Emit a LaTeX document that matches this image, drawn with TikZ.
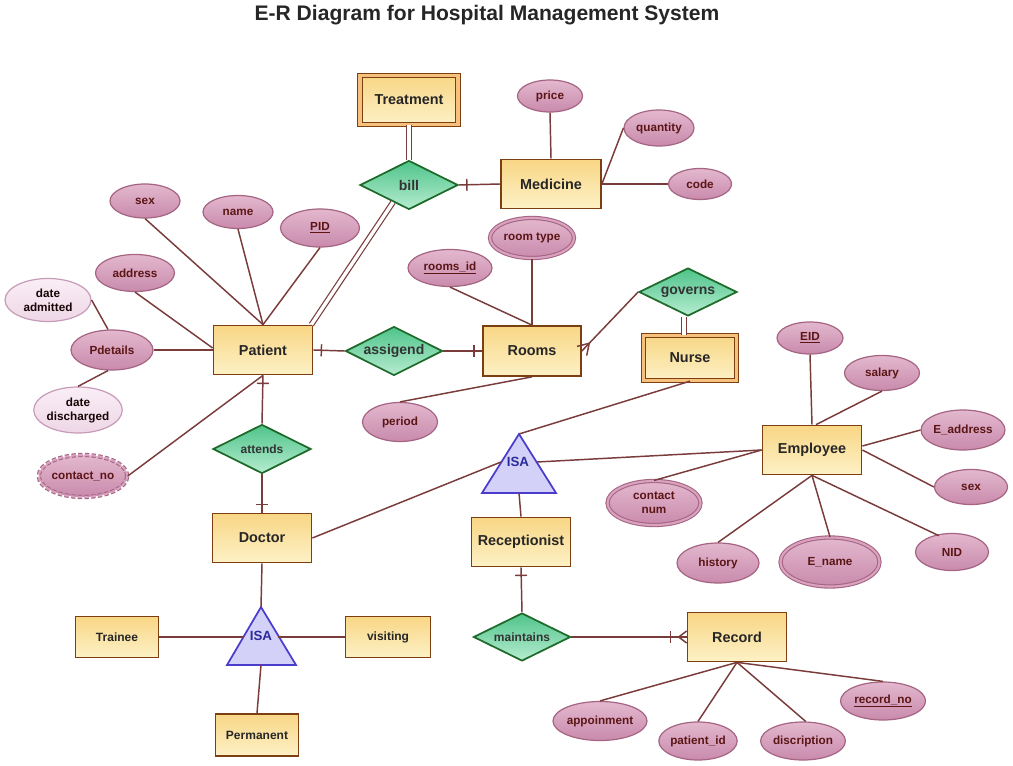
\documentclass[tikz,border=0pt]{standalone}
\usepackage{fontspec}
\setmainfont{Liberation Sans}
\usetikzlibrary{shapes.geometric,decorations.markings,calc}
\definecolor{lineC}{HTML}{7A3B3B}
\definecolor{entB}{HTML}{7B3F12}
\definecolor{entTop}{HTML}{F8D685}
\definecolor{entBot}{HTML}{FDF1C6}
\definecolor{dblC}{HTML}{F6C17C}
\definecolor{relB}{HTML}{1D6A2A}
\definecolor{relTop}{HTML}{4FC48A}
\definecolor{relBot}{HTML}{B6ECD0}
\definecolor{attB}{HTML}{A56482}
\definecolor{attTop}{HTML}{E3B8CE}
\definecolor{attBot}{HTML}{C98AAC}
\definecolor{attMid}{HTML}{D9A3C0}
\definecolor{attT}{HTML}{5B1515}
\definecolor{lattB}{HTML}{C79BB7}
\definecolor{lattTop}{HTML}{FAEEF6}
\definecolor{lattBot}{HTML}{EED7E6}
\definecolor{isaB}{HTML}{4A3CCC}
\definecolor{isaF}{HTML}{D3D1F7}
\definecolor{isaT}{HTML}{2B2B99}
\begin{document}
\begin{tikzpicture}[x=0.75pt,y=-0.75pt,
  sz/.style 2 args={minimum width=#1*0.75pt, minimum height=#2*0.75pt},
  conn/.style={draw=lineC, line width=1.1pt},
  dbl/.style={draw=lineC, line width=0.9pt, double=white, double distance=2.6pt},
  ent/.style={rectangle, draw=entB, line width=1.3pt, top color=entTop, bottom color=entBot,
    font=\bfseries\fontsize{10.8}{12}\selectfont, text=black!85, inner sep=0pt},
  sent/.style={ent, font=\bfseries\fontsize{9}{11}\selectfont},
  went/.style={ent, line width=1pt, double=dblC, double distance=2.4pt},
  rel/.style={diamond, aspect=2, draw=relB, line width=1.3pt, top color=relTop, bottom color=relBot,
    inner sep=0pt, font=\bfseries\fontsize{10.5}{12}\selectfont, text=black!80},
  srel/.style={rel, font=\bfseries\fontsize{9}{11}\selectfont},
  att/.style={ellipse, draw=attB, line width=0.9pt, top color=attTop, bottom color=attBot,
    inner sep=0pt, font=\bfseries\fontsize{8.8}{10.5}\selectfont, text=attT, align=center},
  latt/.style={att, draw=lattB, top color=lattTop, bottom color=lattBot, text=black!75!attT},
  matt/.style={att, line width=0.8pt, double=attMid, double distance=1.6pt},
  datt/.style={matt, dash pattern=on 3.2pt off 1.8pt},
  isa/.style={draw=isaB, line width=1.3pt, fill=isaF, line join=miter},
  isatext/.style={font=\bfseries\fontsize{10}{12}\selectfont, text=isaT, inner sep=0pt},
  tickS/.style={postaction={decorate,decoration={markings,
    mark=at position #1 with {\draw[conn] (0pt,-4.5pt)--(0pt,4.5pt);}}}},
  tickS/.default=6pt,
  crowS/.style={postaction={decorate,decoration={markings,
    mark=at position 8pt with {\draw[conn] (-8pt,5pt)--(0pt,0pt)--(-8pt,-5pt);}}}},
  crowE/.style={postaction={decorate,decoration={markings,
    mark=at position -6pt with {\draw[conn] (6pt,4.5pt)--(0pt,0pt)--(6pt,-4.5pt);}}}},
  ttl/.style={font=\bfseries\fontsize{15.8}{18}\selectfont, text=black!85}
]
\useasboundingbox (0,0) rectangle (1013,766);
\fill[white] (0,0) rectangle (1013,766);

\node[ttl] (title) at (487,15) {E-R Diagram for Hospital Management System};

% ---------- entities
\node[went, sz={98}{49}] (treat) at (409,100) {Treatment};
\node[ent, sz={100}{49}] (medicine) at (551,184) {Medicine};
\node[ent, sz={99}{49}] (patient) at (263,350) {Patient};
\node[ent, sz={98}{50}] (rooms) at (532,351) {Rooms};
\node[went, sz={93}{45}] (nurse) at (690,358) {Nurse};
\node[ent, sz={99}{49}] (employee) at (812,450) {Employee};
\node[ent, sz={99}{49}] (doctor) at (262,538) {Doctor};
\node[ent, sz={99}{49}] (recep) at (521,542) {Receptionist};
\node[ent, sz={99}{49}] (record) at (737,637) {Record};
\node[sent, sz={83}{41}] (trainee) at (117,637) {Trainee};
\node[sent, sz={85}{41}] (visiting) at (388,637) {visiting};
\node[sent, sz={83}{42}] (perm) at (257,735) {Permanent};

% ---------- relationships
\node[rel, sz={98}{49}] (bill) at (409,185) {bill};
\node[rel, sz={97}{49}] (assig) at (394,351) {assigend};
\node[rel, sz={98}{48}] (governs) at (688,292) {governs};
\node[srel, sz={98}{49}] (attends) at (262,449) {attends};
\node[srel, sz={97}{48}] (maint) at (522,637) {maintains};

% ---------- ISA triangles
\path[isa] (519,434) coordinate (isaAT) -- (556,493) coordinate (isaAR)
  -- (482,493) coordinate (isaAL) -- cycle;
\node[isatext] (isaA) at (518,462) {ISA};
\coordinate (isaAW) at (501,462);
\coordinate (isaAE) at (537,462);
\coordinate (isaAB) at (519,493);
\path[isa] (261,607) coordinate (isaBT) -- (296,665) coordinate (isaBR)
  -- (227,665) coordinate (isaBL) -- cycle;
\node[isatext] (isaB) at (261,636) {ISA};
\coordinate (isaBW) at (243,637);
\coordinate (isaBE) at (278,637);
\coordinate (isaBB) at (261,665);

% ---------- attributes
\node[att, sz={70}{34}] (sexa) at (145,201) {sex};
\node[att, sz={70}{33}] (name) at (238,212) {name};
\node[att, sz={79}{38}] (pid) at (320,228) {\underline{PID}};
\node[att, sz={79}{37}] (address) at (135,273) {address};
\node[latt, sz={86}{43}] (dadm) at (48,300) {date\\admitted};
\node[att, sz={82}{40}] (pdet) at (112,350) {Pdetails};
\node[latt, sz={86}{46}] (ddis) at (78,410) {date\\discharged};
\node[datt, sz={87}{42}] (cno) at (83,476) {contact\_no};
\node[att, sz={65}{32}] (price) at (550,96) {price};
\node[att, sz={70}{36}] (quantity) at (659,128) {quantity};
\node[att, sz={63}{31}] (code) at (700,184) {code};
\node[matt, sz={84}{40}] (rtype) at (532,238) {room type};
\node[att, sz={84}{37}] (rid) at (450,268) {\underline{rooms\_id}};
\node[att, sz={75}{39}] (period) at (400,422) {period};
\node[att, sz={66}{32}] (eid) at (810,338) {\underline{EID}};
\node[att, sz={75}{35}] (salary) at (882,373) {salary};
\node[att, sz={82}{40}] (eaddr) at (963,430) {E\_address};
\node[att, sz={73}{35}] (sexb) at (971,487) {sex};
\node[matt, sz={93}{44}] (cnum) at (654,503) {contact\\num};
\node[att, sz={82}{40}] (history) at (718,563) {history};
\node[matt, sz={99}{49}] (ename) at (830,562) {E\_name};
\node[att, sz={73}{37}] (nid) at (952,552) {NID};
\node[att, sz={89}{39}] (appoin) at (600,721) {appoinment};
\node[att, sz={78}{38}] (patid) at (698,741) {patient\_id};
\node[att, sz={84}{38}] (discr) at (803,741) {discription};
\node[att, sz={85}{38}] (recno) at (883,701) {\underline{record\_no}};

% ---------- relationship connectors
\draw[dbl] (treat.south) -- (bill.north);
\draw[dbl] ($(bill.west)!0.68!(bill.south)$) -- ([xshift=-1.5pt]patient.north east);
\draw[conn, tickS] (bill.east) -- (medicine.west);
\draw[conn, tickS] (patient.east) -- (assig.west);
\draw[conn, tickS=-6pt] (assig.east) -- (rooms.west);
\draw[conn, crowS] (rooms.east) -- (governs.west);
\draw[dbl] ([xshift=-3pt]governs.south) -- ([xshift=-3pt]governs.south |- nurse.north);
\draw[conn, tickS] (patient.south) -- (attends.north);
\draw[conn, tickS=-6pt] (attends.south) -- (doctor.north);
\draw[conn] (doctor.east) -- (isaAW);
\draw[conn] (nurse.south) -- (isaAT);
\draw[conn] (isaAE) -- (employee.west);
\draw[conn] (isaAB) -- (recep.north);
\draw[conn, tickS] (recep.south) -- (maint.north);
\draw[conn, tickS=-12pt, crowE] (maint.east) -- (record.west);
\draw[conn] (doctor.south) -- (isaBT);
\draw[conn] (trainee.east) -- (isaBW);
\draw[conn] (isaBE) -- (visiting.west);
\draw[conn] (isaBB) -- (perm.north);

% ---------- attribute connectors
\draw[conn] (sexa.south) -- (patient.north);
\draw[conn] (name.south) -- (patient.north);
\draw[conn] (pid.south) -- (patient.north);
\draw[conn] (address.south) -- ([yshift=1.5pt]patient.west);
\draw[conn] (pdet.east) -- (patient.west);
\draw[conn] (dadm.east) -- ([xshift=-3pt]pdet.north);
\draw[conn] (ddis.north) -- ([xshift=-3pt]pdet.south);
\draw[conn] (cno.east) -- (patient.south);
\draw[conn] (price.south) -- (medicine.north);
\draw[conn] (quantity.west) -- (medicine.east);
\draw[conn] (code.west) -- (medicine.east);
\draw[conn] (rtype.south) -- (rooms.north);
\draw[conn] (rid.south) -- (rooms.north);
\draw[conn] (period.north) -- (rooms.south);
\draw[conn] (eid.south) -- (employee.north);
\draw[conn] (salary.south) -- ([xshift=3pt]employee.north);
\draw[conn] (eaddr.west) -- ([yshift=3pt]employee.east);
\draw[conn] (sexb.west) -- (employee.east);
\draw[conn] (cnum.north) -- (employee.west);
\draw[conn] (history.north) -- (employee.south);
\draw[conn] (ename.north) -- (employee.south);
\draw[conn] ($(nid.north)!0.5!(nid.north west)$) -- (employee.south);
\draw[conn] (appoin.north) -- (record.south);
\draw[conn] (patid.north) -- (record.south);
\draw[conn] ([xshift=2pt]discr.north) -- (record.south);
\draw[conn] (recno.north) -- (record.south);
\end{tikzpicture}
\end{document}
